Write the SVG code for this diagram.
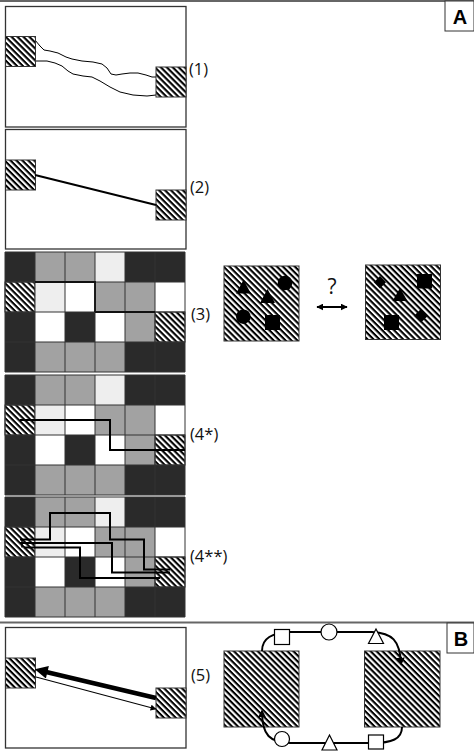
<svg xmlns="http://www.w3.org/2000/svg" width="474" height="752" viewBox="0 0 474 752">
<defs>
<pattern id="hatch" patternUnits="userSpaceOnUse" width="4.2" height="4.2" patternTransform="rotate(45)">
<rect width="4.2" height="4.2" fill="#fff"/><rect width="4.2" height="2.1" fill="#000"/>
</pattern>
<marker id="ah" viewBox="0 0 10 10" refX="9" refY="5" markerWidth="7" markerHeight="7" orient="auto-start-reverse" markerUnits="userSpaceOnUse"><path d="M0,0 L10,5 L0,10 z" fill="#000"/></marker>
<marker id="ahBig" viewBox="0 0 10 10" refX="9" refY="5" markerWidth="16" markerHeight="13" orient="auto" markerUnits="userSpaceOnUse"><path d="M0,0 L10,5 L0,10 z" fill="#000"/></marker>
<marker id="ahSmall" viewBox="0 0 10 10" refX="9" refY="5" markerWidth="8" markerHeight="6" orient="auto" markerUnits="userSpaceOnUse"><path d="M0,0 L10,5 L0,10 z" fill="#000"/></marker>
<marker id="ahLoop" viewBox="0 0 10 10" refX="8" refY="5" markerWidth="8" markerHeight="8" orient="auto" markerUnits="userSpaceOnUse"><path d="M0,0 L10,5 L0,10 z" fill="#000"/></marker>
</defs>
<style>
.panel{fill:#fff;stroke:#333;stroke-width:1.3}
.hat{fill:url(#hatch);stroke:#333;stroke-width:1}
.lbl{font-family:"Open Sans","Liberation Sans",sans-serif;font-size:16.5px;fill:#111}
.big{font-family:"Liberation Sans",Arial,sans-serif;font-size:20px;font-weight:bold;fill:#000}
.dk{fill:#2a2a2a}.gr{fill:#a2a2a2}.lt{fill:#eeeeee}.wh{fill:#fff}
.gl{stroke:#333;stroke-width:1;fill:none}
.path{fill:none;stroke:#000;stroke-width:2}
.sh{fill:#000}
.ws{fill:#fff;stroke:#000;stroke-width:1.2}
.sep{stroke:#666;stroke-width:2}
</style>
<rect width="474" height="752" fill="#fff"/>
<line class="sep" x1="0" y1="1" x2="474" y2="1"/>
<line class="sep" x1="0" y1="622.5" x2="474" y2="622.5"/>

<g id="labelA"><rect x="445" y="1" width="29" height="30" fill="#fff" stroke="#333" stroke-width="1"/><text class="big" x="460" y="24" text-anchor="middle">A</text></g>
<g id="labelB"><rect x="447" y="623" width="27" height="30" fill="#fff" stroke="#333" stroke-width="1"/><text class="big" x="461" y="646" text-anchor="middle">B</text></g>

<g id="panel1">
<rect class="panel" x="5.5" y="6.5" width="180.5" height="120.5"/>
<path d="M35,40 L40,46 L44,50 L50,51 L58,53 L66,57 L72,59 L82,61 L93,62 L102,64 L107,68 L111,74 L116,75 L122,74 L130,73 L138,73 L146,75 L152,77 L156,77" fill="none" stroke="#000" stroke-width="1" stroke-linejoin="round"/>
<path d="M35,61 L47,61 L55,63 L62,66 L68,71 L73,74 L83,76 L92,77 L100,81 L110,87 L120,92 L133,95 L147,96 L156,95" fill="none" stroke="#000" stroke-width="1" stroke-linejoin="round"/>
<rect class="hat" x="5.5" y="36.5" width="30" height="30"/>
<rect class="hat" x="156" y="67" width="30" height="30"/>
<text class="lbl" x="189" y="75">(1)</text>
</g>

<g id="panel2">
<rect class="panel" x="5.5" y="129.5" width="180.5" height="119.5"/>
<rect class="hat" x="5.5" y="160" width="30" height="30"/>
<rect class="hat" x="156" y="190" width="30" height="30"/>
<text class="lbl" x="190" y="193">(2)</text>
</g>

<g id="panel3">
<g transform="translate(5,252)">
<rect class="dk" x="0" y="0" width="30" height="30"/><rect class="gr" x="30" y="0" width="30" height="30"/><rect class="gr" x="60" y="0" width="30" height="30"/><rect class="lt" x="90" y="0" width="30" height="30"/><rect class="dk" x="120" y="0" width="30" height="30"/><rect class="dk" x="150" y="0" width="30" height="30"/>
<rect class="hat" x="0" y="30" width="30" height="30"/><rect class="lt" x="30" y="30" width="30" height="30"/><rect class="wh" x="60" y="30" width="30" height="30"/><rect class="gr" x="90" y="30" width="30" height="30"/><rect class="gr" x="120" y="30" width="30" height="30"/><rect class="wh" x="150" y="30" width="30" height="30"/>
<rect class="dk" x="0" y="60" width="30" height="30"/><rect class="wh" x="30" y="60" width="30" height="30"/><rect class="dk" x="60" y="60" width="30" height="30"/><rect class="wh" x="90" y="60" width="30" height="30"/><rect class="gr" x="120" y="60" width="30" height="30"/><rect class="hat" x="150" y="60" width="30" height="30"/>
<rect class="dk" x="0" y="90" width="30" height="30"/><rect class="gr" x="30" y="90" width="30" height="30"/><rect class="gr" x="60" y="90" width="30" height="30"/><rect class="gr" x="90" y="90" width="30" height="30"/><rect class="dk" x="120" y="90" width="30" height="30"/><rect class="dk" x="150" y="90" width="30" height="30"/>
<path class="gl" d="M0,0H180V120H0Z M30,0V120 M60,0V120 M90,0V120 M120,0V120 M150,0V120 M0,30H180 M0,60H180 M0,90H180"/>
<path d="M30,30H90V60 M90,60H150" fill="none" stroke="#111" stroke-width="1.8"/>
</g>
<text class="lbl" x="191" y="320">(3)</text>
</g>

<g id="panel4a">
<g transform="translate(5,375)">
<rect class="dk" x="0" y="0" width="30" height="30"/><rect class="gr" x="30" y="0" width="30" height="30"/><rect class="gr" x="60" y="0" width="30" height="30"/><rect class="lt" x="90" y="0" width="30" height="30"/><rect class="dk" x="120" y="0" width="30" height="30"/><rect class="dk" x="150" y="0" width="30" height="30"/>
<rect class="hat" x="0" y="30" width="30" height="30"/><rect class="lt" x="30" y="30" width="30" height="30"/><rect class="wh" x="60" y="30" width="30" height="30"/><rect class="gr" x="90" y="30" width="30" height="30"/><rect class="gr" x="120" y="30" width="30" height="30"/><rect class="wh" x="150" y="30" width="30" height="30"/>
<rect class="dk" x="0" y="60" width="30" height="30"/><rect class="wh" x="30" y="60" width="30" height="30"/><rect class="dk" x="60" y="60" width="30" height="30"/><rect class="wh" x="90" y="60" width="30" height="30"/><rect class="gr" x="120" y="60" width="30" height="30"/><rect class="hat" x="150" y="60" width="30" height="30"/>
<rect class="dk" x="0" y="90" width="30" height="30"/><rect class="gr" x="30" y="90" width="30" height="30"/><rect class="gr" x="60" y="90" width="30" height="30"/><rect class="gr" x="90" y="90" width="30" height="30"/><rect class="dk" x="120" y="90" width="30" height="30"/><rect class="dk" x="150" y="90" width="30" height="30"/>
<path class="gl" d="M0,0H180V120H0Z M30,0V120 M60,0V120 M90,0V120 M120,0V120 M150,0V120 M0,30H180 M0,60H180 M0,90H180"/>
</g>
<text class="lbl" x="190" y="440">(4*)</text>
</g>

<g id="panel4b">
<g transform="translate(5,497)">
<rect class="dk" x="0" y="0" width="30" height="30"/><rect class="gr" x="30" y="0" width="30" height="30"/><rect class="gr" x="60" y="0" width="30" height="30"/><rect class="lt" x="90" y="0" width="30" height="30"/><rect class="dk" x="120" y="0" width="30" height="30"/><rect class="dk" x="150" y="0" width="30" height="30"/>
<rect class="hat" x="0" y="30" width="30" height="30"/><rect class="lt" x="30" y="30" width="30" height="30"/><rect class="wh" x="60" y="30" width="30" height="30"/><rect class="gr" x="90" y="30" width="30" height="30"/><rect class="gr" x="120" y="30" width="30" height="30"/><rect class="wh" x="150" y="30" width="30" height="30"/>
<rect class="dk" x="0" y="60" width="30" height="30"/><rect class="wh" x="30" y="60" width="30" height="30"/><rect class="dk" x="60" y="60" width="30" height="30"/><rect class="wh" x="90" y="60" width="30" height="30"/><rect class="gr" x="120" y="60" width="30" height="30"/><rect class="hat" x="150" y="60" width="30" height="30"/>
<rect class="dk" x="0" y="90" width="30" height="30"/><rect class="gr" x="30" y="90" width="30" height="30"/><rect class="gr" x="60" y="90" width="30" height="30"/><rect class="gr" x="90" y="90" width="30" height="30"/><rect class="dk" x="120" y="90" width="30" height="30"/><rect class="dk" x="150" y="90" width="30" height="30"/>
<path class="gl" d="M0,0H180V120H0Z M30,0V120 M60,0V120 M90,0V120 M120,0V120 M150,0V120 M0,30H180 M0,60H180 M0,90H180"/>
</g>
<text class="lbl" x="190" y="562">(4**)</text>
</g>

<g id="panel5">
<rect class="panel" x="5.5" y="627.5" width="180.5" height="120.5"/>
<rect class="hat" x="5.5" y="658" width="30" height="30"/>
<rect class="hat" x="156" y="688" width="30" height="30"/>
<text class="lbl" x="191" y="681">(5)</text>
</g>

<g id="areaLeft">
<rect class="hat" x="224" y="266" width="75" height="75"/>
<polygon class="sh" points="243.5,280 236,293.5 251,293.5"/>
<circle class="sh" cx="285" cy="283" r="7.3"/>
<polygon class="sh" points="267.5,289 260,303 275,303"/>
<circle class="sh" cx="243.3" cy="316.7" r="7.3"/>
<rect class="sh" x="265" y="315" width="15" height="15"/>
</g>
<g id="areaRight">
<rect class="hat" x="365.5" y="265" width="75" height="74.5"/>
<polygon class="sh" points="380,276 386,282.3 380,288.6 374,282.3"/>
<rect class="sh" x="417" y="274" width="15" height="14.5"/>
<polygon class="sh" points="400,288 392.5,301 407.5,301"/>
<rect class="sh" x="384" y="315" width="15" height="15"/>
<polygon class="sh" points="421,309 428,315.7 421,322.4 414,315.7"/>
</g>
<text class="lbl" x="332" y="294" text-anchor="middle" style="font-size:21px">?</text>

<g id="habitatLeft"><rect class="hat" x="224" y="651" width="75" height="76"/></g>
<g id="habitatRight"><rect class="hat" x="364.5" y="651" width="75.5" height="76"/></g>

<g id="connectors">
<line x1="35" y1="175" x2="156" y2="205" stroke="#000" stroke-width="2"/>
<path class="path" d="M20,420 H110 V450 H185"/>
<path class="path" d="M20,539.5 H50 V513 H110 V539.5 H144 V569.5 H170"/>
<path class="path" d="M20,543 H112 V572.5 H170"/>
<path class="path" d="M24,547.5 H80 V578 H160"/>
<path d="M22,539.5 V547.5" stroke="#000" stroke-width="1.5"/>
<line x1="156" y1="698" x2="42" y2="671" stroke="#000" stroke-width="4.5"/>
<line x1="56" y1="674.3" x2="36" y2="669.5" stroke="#000" stroke-width="1" marker-end="url(#ahBig)"/>
<line x1="36" y1="677" x2="156" y2="709" stroke="#000" stroke-width="1.2" marker-end="url(#ahSmall)"/>
<line x1="317" y1="307" x2="347" y2="307" stroke="#000" stroke-width="2" marker-start="url(#ah)" marker-end="url(#ah)"/>
<path d="M262,651 C262,638 272,633 290,632 L372,632 C392,633 400,640 401,664" fill="none" stroke="#000" stroke-width="2" marker-end="url(#ahLoop)"/>
<path d="M402,727 C402,739 392,743 372,743 L290,743 C270,742 262,736 262,711" fill="none" stroke="#000" stroke-width="2" marker-end="url(#ahLoop)"/>
</g>

<g id="loopShapes">
<rect class="ws" x="274.5" y="629.5" width="15" height="15"/>
<circle class="ws" cx="329" cy="632" r="8"/>
<polygon class="ws" points="376,629 368.5,643.5 383.5,643.5"/>
<circle class="ws" cx="282" cy="739" r="7.5"/>
<polygon class="ws" points="329.5,735 322,750 337,750"/>
<rect class="ws" x="368.5" y="735" width="15" height="14"/>
</g>
</svg>
